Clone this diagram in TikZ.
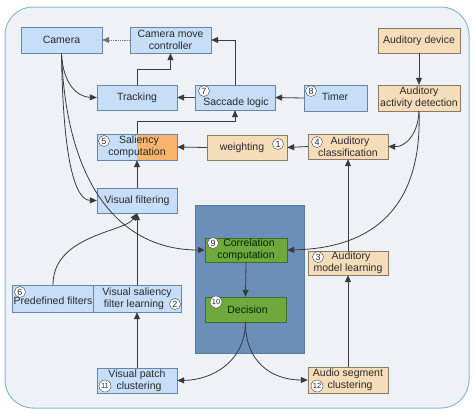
\documentclass[tikz,border=0pt]{standalone}
\usepackage{fontspec}
\setmainfont{Liberation Sans}
\usetikzlibrary{arrows.meta,calc}
\definecolor{bgfill}{HTML}{EEF2F6}
\definecolor{bgline}{HTML}{88BACB}
\definecolor{lblue}{HTML}{C6DEF7}
\definecolor{lblueline}{HTML}{6A86A6}
\definecolor{beige}{HTML}{F6DDBA}
\definecolor{beigeline}{HTML}{8C7A66}
\definecolor{orng}{HTML}{F8B46C}
\definecolor{grn}{HTML}{6FA83C}
\definecolor{grnline}{HTML}{3F6A2A}
\definecolor{dblue}{HTML}{6B8FB8}
\definecolor{txt}{HTML}{2A2A2A}
\definecolor{lin}{HTML}{3A3A3A}
\begin{document}
\begin{tikzpicture}[x=1pt,y=-1pt,
  base/.style={draw, inner sep=1pt, align=center, text=txt,
    font=\fontsize{10.5}{12}\selectfont, minimum width=80pt, minimum height=25pt},
  bluebox/.style={base, fill=lblue, draw=lblueline},
  beigebox/.style={base, fill=beige, draw=beigeline},
  greenbox/.style={base, fill=grn, draw=grnline, text=black!85!green},
  numc/.style={circle, draw=black!75, fill=white, inner sep=0pt, minimum size=11pt,
    font=\fontsize{9}{9}\selectfont, text=txt},
  numcc/.style={numc, minimum size=12pt, font=\fontsize{7.5}{7.5}\selectfont},
  arr/.style={draw=lin, line width=0.8pt, -{Triangle[length=7pt,width=6pt]}},
  ln/.style={draw=lin, line width=0.8pt}
]
\useasboundingbox (0,0) rectangle (474,413);
\draw[fill=bgfill, draw=bgline, line width=1pt, rounded corners=28pt] (5,7) rectangle (469,408);
\node[fill=dblue, draw=dblue!85!black, minimum width=109pt, minimum height=148pt, inner sep=0pt] (dbx) at (249.5,279) {};

% nodes
\node[bluebox, minimum width=81pt, minimum height=26pt] (cam) at (61.5,40) {Camera};
\node[bluebox, minimum width=81pt, minimum height=26pt] (cmc) at (170.5,40) {Camera move\\controller};
\node[bluebox] (trk) at (137,97.5) {Tracking};
\node[bluebox] (sac) at (235,97.5) {};
\node[text=txt, font=\fontsize{10.5}{12}\selectfont, inner sep=0pt] (sact) at (236,102.5) {Saccade logic};
\node[bluebox, minimum width=63pt, minimum height=26pt] (tim) at (335.5,98) {};
\node[text=txt, font=\fontsize{10.5}{12}\selectfont, inner sep=0pt] (timt) at (335,97) {Timer};
\node[beigebox, minimum width=82pt] (adv) at (419,40.5) {Auditory device};
\node[beigebox, minimum width=82pt, minimum height=26pt] (aad) at (419,98) {Auditory\\activity detection};
\node[bluebox, minimum height=26pt,
  path picture={\fill[orng] (path picture bounding box.north) rectangle (path picture bounding box.south east);}]
  (sal) at (137,147) {\hspace*{4pt}Saliency\\computation};
\node[beigebox] (wgt) at (247,147.5) {weighting\hspace*{10pt}};
\node[beigebox] (acl) at (348,146.5) {\hspace*{4pt}Auditory\\classification};
\node[bluebox] (vf) at (137,200.5) {Visual filtering};
\node[greenbox, minimum width=82pt, minimum height=24pt] (cor) at (246,250) {\hspace*{6pt}Correlation\\computation};
\node[greenbox, minimum width=81pt] (dec) at (245.5,309.5) {\hspace*{4pt}Decision};
\node[beigebox, minimum height=24pt] (aml) at (348,263) {\hspace*{6pt}Auditory\\model learning};
\node[bluebox, minimum width=80pt, minimum height=27pt] (pf) at (53,298.5) {\\Predefined filters};
\node[bluebox, minimum width=88pt, minimum height=27pt] (vsf) at (137,298.5) {Visual saliency\\filter learning\hspace*{6pt}};
\node[bluebox] (vpc) at (137,380.5) {Visual patch\\\hspace*{4pt}clustering};
\node[beigebox, minimum height=26pt] (asc) at (348,380) {Audio segment\\\hspace*{4pt}clustering};

% circled numbers
\node[numc] (n1) at (278,144) {1};
\node[numc] (n2) at (175,304) {2};
\node[numc] (n3) at (318,257) {3};
\node[numc] (n4) at (317,142) {4};
\node[numc] (n5) at (104,141) {5};
\node[numc] (n6) at (20,292) {6};
\node[numc] (n7) at (204,91) {7};
\node[numc] (n8) at (311,91) {8};
\node[numc] (n9) at (213,243) {9};
\node[numcc] (n10) at (216,302) {10};
\node[numcc] (n11) at (105,386) {11};
\node[numcc] (n12) at (317,386) {12};

% connectors
\draw[arr, densely dotted, draw=black!55] (cmc.west) -- (cam.east);
\draw[arr] (trk.north) |- ($(cmc.south)+(0,16)$) -- (cmc.south);
\draw[arr] (sac.north) |- (cmc.east);
\draw[arr] (sac.west) -- (trk.east);
\draw[arr] (tim.west) -- (sac.east);
\draw[arr] (adv.south) -- (aad.north);
\draw[arr] (sal.north) -- ++(0,-12) -| (sac.south);
\draw[arr] (wgt.west) -- (sal.east);
\draw[arr] (acl.west) -- (wgt.east);
\draw[arr] (aad.south) .. controls (418,135) and (405,147) .. (acl.east);
\draw[arr] (aad.south) .. controls (422,195) and (385,248) .. (cor.east);
\draw[arr] (aml.north) -- (acl.south);
\draw[arr] (asc.north) -- (aml.south);
\draw[arr] (dec.south) .. controls (245,362) and (272,380) .. (asc.west);
\draw[arr] (dec.south) .. controls (245,362) and (212,380) .. (vpc.east);
\draw[arr] (cor.south) -- (dec.north);
\draw[arr] (vpc.north) -- (vsf.south);
\draw[arr] (vsf.north) -- (vf.south);
\draw[arr] (pf.north) .. controls (53,235) and (125,232) .. (vf.south);
\draw[arr] (cam.south) .. controls (63,85) and (78,97) .. (trk.west);
\draw[arr] (cam.south) .. controls (63,160) and (75,200) .. (vf.west);
\draw[arr] (cam.south) .. controls (66,185) and (120,250) .. (cor.west);
\draw[arr] (vf.north) -- (sal.south);
\end{tikzpicture}
\end{document}
